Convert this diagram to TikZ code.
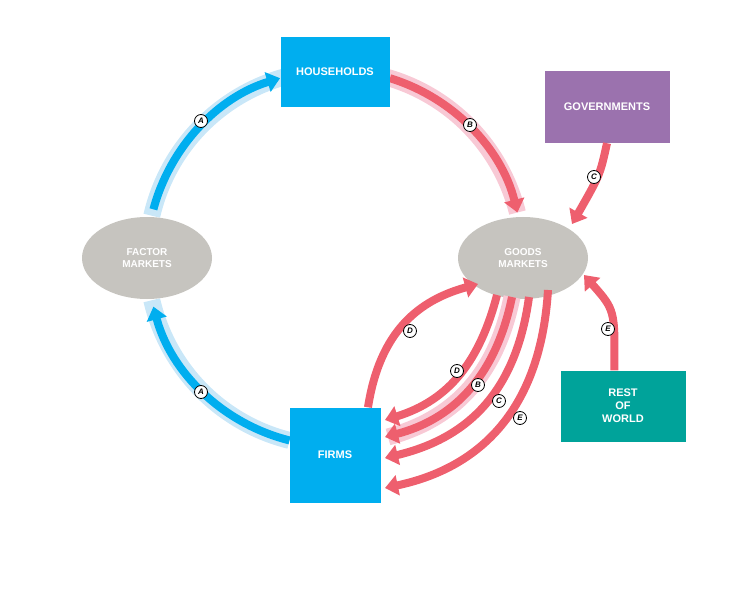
\documentclass[tikz,border=0pt]{standalone}
\usepackage{fontspec}
\setmainfont{Liberation Sans}
\usetikzlibrary{arrows.meta,shapes.geometric}
\definecolor{cblue}{HTML}{00AEEF}
\definecolor{lblue}{HTML}{C9E7F8}
\definecolor{cred}{HTML}{EE5F6E}
\definecolor{lpink}{HTML}{F8C9D5}
\definecolor{cgray}{HTML}{C6C4BF}
\definecolor{cpurp}{HTML}{9B72AE}
\definecolor{cteal}{HTML}{00A39A}
\begin{document}
\begin{tikzpicture}[x=1pt,y=-1pt,
  box/.style={rectangle,draw=none,text=white,font=\fontsize{11}{13}\selectfont\bfseries,align=center,inner sep=0pt},
  mkt/.style={ellipse,fill=cgray,text=white,font=\fontsize{10}{12}\selectfont\bfseries,align=center,minimum width=130,minimum height=82,inner sep=0pt},
  flow/.style={line width=8,-{Triangle[length=13,width=20]}},
  halo/.style={line width=17},
  lab/.style={circle,draw=black,fill=white,line width=0.8,inner sep=0pt,minimum size=13,font=\fontsize{8}{8}\selectfont\bfseries\itshape}]
\useasboundingbox (0,0) rectangle (750,604);
\coordinate (c) at (335,258);
% halos
\draw[halo,lblue] (c) ++(-167:188) arc (-167:-106:188);
\draw[halo,lblue] (c) ++(104:188) arc (104:167:188);
\draw[halo,lpink] (c) ++(-74:188) arc (-74:-14:188);
% main arcs
\draw[flow,cblue] (c) ++(-165:188) arc (-165:-107:188);
\draw[flow,cblue] (c) ++(104:188) arc (104:165:188);
\draw[flow,cred] (c) ++(-73:188) arc (-73:-14:188);
% nodes
\node[box,fill=cblue,minimum width=109,minimum height=70] (hh) at (335,72) {HOUSEHOLDS};
\node[box,fill=cpurp,minimum width=125,minimum height=72] (gov) at (607,107) {GOVERNMENTS};
\node[box,fill=cblue,minimum width=91,minimum height=95] (firms) at (335,455) {FIRMS};
\node[box,fill=cteal,minimum width=125,minimum height=71] (row) at (623,406) {REST\\OF\\WORLD};
\node[mkt] (fm) at (147,258) {FACTOR\\MARKETS};
\node[mkt] (gm) at (523,258) {GOODS\\MARKETS};
% government and rest of world
\draw[flow,cred] (gov.south) .. controls (600,175) .. (572,224);
\draw[flow,cred] (row.north west) ++(54,0) .. controls (615,310) .. (584,275);
% firms to goods (D)
\draw[flow,cred] (firms.north) ++(33,0) .. controls (380,330) and (420,300) .. (478,284);
% goods to firms
\draw[halo,lpink] (512,297) .. controls (495,380) and (450,420) .. (388,437);
\draw[flow,cred] (497,295) .. controls (480,360) and (450,400) .. (385,420);
\draw[flow,cred] (512,297) .. controls (495,380) and (450,420) .. (385,437);
\draw[flow,cred] (529,297) .. controls (515,400) and (460,440) .. (385,458);
\draw[flow,cred] (548,290) .. controls (540,420) and (470,470) .. (385,488);
% labels
\node[lab] (la1) at (201,121) {A};
\node[lab] (lb1) at (470,125) {B};
\node[lab] (lc1) at (594,177) {C};
\node[lab] (le1) at (608,329) {E};
\node[lab] (ld1) at (410,331) {D};
\node[lab] (ld2) at (457,371) {D};
\node[lab] (lb2) at (478,385) {B};
\node[lab] (lc2) at (499,401) {C};
\node[lab] (le2) at (520,418) {E};
\node[lab] (la2) at (201,392) {A};
\end{tikzpicture}
\end{document}
